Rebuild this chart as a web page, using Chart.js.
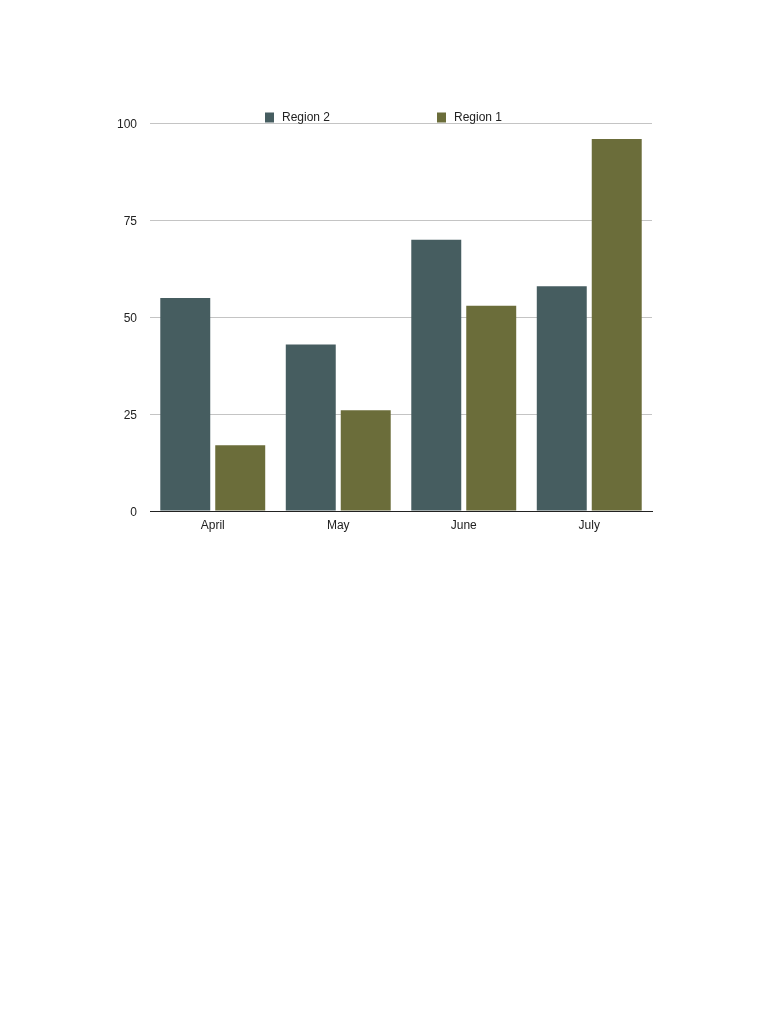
<!DOCTYPE html>
<html>
<head>
<meta charset="utf-8">
<script src="https://cdn.jsdelivr.net/npm/chart.js@4/dist/chart.umd.min.js"></script>
<style>
html,body{margin:0;padding:0;background:#fff;}
canvas{display:block;}
</style>
</head>
<body>
<canvas id="c" width="768" height="1024"></canvas>
<script>
const categories = ["April", "May", "June", "July"];
const region2 = [55, 43, 70, 58];
const region1 = [17, 26, 53, 96];
const seriesNames = ["Region 2", "Region 1"];
const seriesColors = ["#465d60", "#6b6d3a"];
const yTicks = [0, 25, 50, 75, 100];

const FONT = "'Liberation Sans', Arial, sans-serif";

const legendPlugin = {
  id: 'customLegend',
  afterDraw(chart) {
    const ctx = chart.ctx;
    ctx.save();
    ctx.font = "12px " + FONT;
    ctx.textBaseline = 'middle';
    const y = chart.chartArea.top - 6;
    const itemStep = 172;
    const boxW = 9, boxH = 10, gap = 8;
    const items = chart.data.datasets.map(d => ({label: d.label, color: d.backgroundColor}));
    const lastW = boxW + gap + ctx.measureText(items[items.length-1].label).width;
    const total = itemStep * (items.length - 1) + lastW;
    let x = Math.round(chart.width / 2 - total / 2);
    items.forEach(it => {
      ctx.fillStyle = it.color;
      ctx.fillRect(x, y - boxH / 2, boxW, boxH);
      ctx.fillStyle = '#222';
      ctx.textAlign = 'left';
      ctx.fillText(it.label, x + boxW + gap, y + 0.5);
      x += itemStep;
    });
    ctx.restore();
  }
};

new Chart(document.getElementById('c'), {
  type: 'bar',
  data: {
    labels: categories,
    datasets: [
      { label: seriesNames[0], data: region2, backgroundColor: seriesColors[0], borderWidth: 0 },
      { label: seriesNames[1], data: region1, backgroundColor: seriesColors[1], borderWidth: 0 }
    ]
  },
  options: {
    responsive: false,
    animation: false,
    devicePixelRatio: 1,
    categoryPercentage: 0.876,
    barPercentage: 0.909,
    layout: { padding: { left: 0, right: 116, top: 123.5, bottom: 483 } },
    plugins: { legend: { display: false }, tooltip: { enabled: false } },
    scales: {
      x: {
        grid: { display: false, drawTicks: false },
        border: { display: true, color: '#222', width: 1 },
        ticks: { color: '#222', font: { family: FONT, size: 12 }, padding: 7 },
        afterFit(s) { s.height = 30; }
      },
      y: {
        min: 0, max: 100,
        afterBuildTicks(s) { s.ticks = yTicks.map(v => ({ value: v })); },
        grid: { color: '#c4c4c4', lineWidth: 1, drawTicks: false },
        border: { display: false },
        ticks: { color: '#222', font: { family: FONT, size: 12 }, padding: 13, labelOffset: 1.5 },
        afterFit(s) { s.width = 150; }
      }
    }
  },
  plugins: [legendPlugin]
});
</script>
</body>
</html>
